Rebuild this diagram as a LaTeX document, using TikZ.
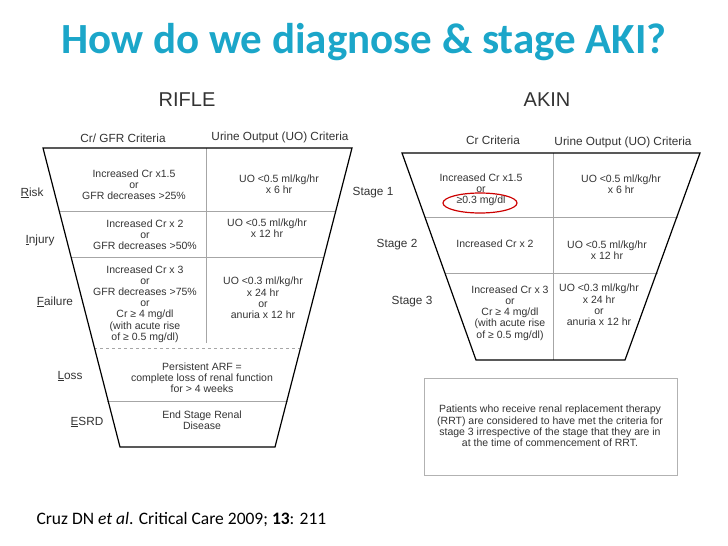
\documentclass[tikz,border=0pt]{standalone}
\usepackage{fontspec}
\setmainfont{Liberation Sans}
\newfontfamily\calibri{Carlito}
\usetikzlibrary{positioning}
\definecolor{teal1}{HTML}{1BA6C9}
\definecolor{ink}{HTML}{333333}
\begin{document}
\begin{tikzpicture}[x=1pt,y=-1pt,
    cell/.style={font=\fontsize{10.5}{11.2}\selectfont, text=ink, align=center, inner sep=0pt},
    lbl/.style={font=\fontsize{11.8}{13}\selectfont, text=ink, inner sep=0pt},
    grid/.style={black!35, line width=0.6pt}]
    \useasboundingbox (0,0) rectangle (728,546);
    \node [font=\calibri\bfseries\fontsize{43}{46}\selectfont, text=teal1] (title) at (364,42) {How do we diagnose \& stage AKI?};
    \node [font=\calibri\fontsize{17.5}{19}\selectfont, anchor=west] (cite) at (33,520) {Cruz DN \textit{et al}. Critical Care 2009; \textbf{13}: 211};
    % RIFLE
    \node [font=\fontsize{20}{22}\selectfont, text=ink] (rifle) at (187,100) {RIFLE};
    \node [lbl] (hcr) at (123,138) {Cr/ GFR Criteria};
    \node [lbl] (huo) at (280,137) {Urine Output (UO) Criteria};
    \draw [grid] (206,148) -- (206,343);
    \draw [grid] (59,211) -- (336,211);
    \draw [grid] (71,257) -- (324,257);
    \draw [grid, dashed] (94,348) -- (301,348);
    \draw [grid] (107,401) -- (288,401);
    \draw [line width=1.2pt] (43,148) -- (352,148) -- (275,447) -- (120,447) -- cycle;
    \node [lbl] (risk) at (32,193) {\underline{R}isk};
    \node [lbl] (injury) at (40,240) {\underline{I}njury};
    \node [lbl] (failure) at (55,302) {\underline{F}ailure};
    \node [lbl] (loss) at (70,376) {\underline{L}oss};
    \node [lbl] (esrd) at (87,422) {\underline{E}SRD};
    \node [cell] (rcr) at (134,185) {Increased Cr x1.5\\or\\GFR decreases >25\%};
    \node [cell] (ruo) at (279,184) {UO <0.5 ml/kg/hr\\x 6 hr};
    \node [cell] (icr) at (145,235) {Increased Cr x 2\\or\\GFR decreases >50\%};
    \node [cell] (iuo) at (267,228) {UO <0.5 ml/kg/hr\\x 12 hr};
    \node [cell] (fcr) at (145,304) {Increased Cr x 3\\or\\GFR decreases >75\%\\or\\Cr ≥ 4 mg/dl\\(with acute rise\\of ≥ 0.5 mg/dl)};
    \node [cell] (fuo) at (263,298) {UO <0.3 ml/kg/hr\\x 24 hr\\or\\anuria x 12 hr};
    \node [cell] (lcell) at (202,378) {Persistent ARF =\\complete loss of renal function\\for > 4 weeks};
    \node [cell] (ecell) at (202,420) {End Stage Renal\\Disease};
    % AKIN
    \node [font=\fontsize{20}{22}\selectfont, text=ink] (akin) at (547,100) {AKIN};
    \node [lbl] (acr) at (493,140) {Cr Criteria};
    \node [lbl] (auo) at (623,142) {Urine Output (UO) Criteria};
    \draw [grid] (553,153) -- (553,360);
    \draw [grid] (425,217) -- (678,217);
    \draw [grid] (445,273) -- (658,273);
    \draw [line width=1.2pt] (402,153) -- (700,153) -- (625,360) -- (476,360) -- cycle;
    \node [lbl] (st1) at (373,193) {Stage 1};
    \node [lbl] (st2) at (397,245) {Stage 2};
    \node [lbl] (st3) at (412,302) {Stage 3};
    \node [cell] (s1cr) at (481,190) {Increased Cr x1.5\\or\\≥0.3 mg/dl};
    \draw [red!80!black, line width=1.2pt] (480,203) ellipse (37 and 10);
    \node [cell] (s1uo) at (621,184) {UO <0.5 ml/kg/hr\\x 6 hr};
    \node [cell] (s2cr) at (495,244) {Increased Cr x 2};
    \node [cell] (s2uo) at (607,250) {UO <0.5 ml/kg/hr\\x 12 hr};
    \node [cell] (s3cr) at (510,313) {Increased Cr x 3\\or\\Cr ≥ 4 mg/dl\\(with acute rise\\of ≥ 0.5 mg/dl)};
    \node [cell] (s3uo) at (599,305) {UO <0.3 ml/kg/hr\\x 24 hr\\or\\anuria x 12 hr};
    \draw [black!30, line width=0.8pt] (424,378) rectangle (677,475);
    \node [cell] (rrt) at (550,426) {Patients who receive renal replacement therapy\\(RRT) are considered to have met the criteria for\\stage 3 irrespective of the stage that they are in\\at the time of commencement of RRT.};
\end{tikzpicture}
\end{document}
